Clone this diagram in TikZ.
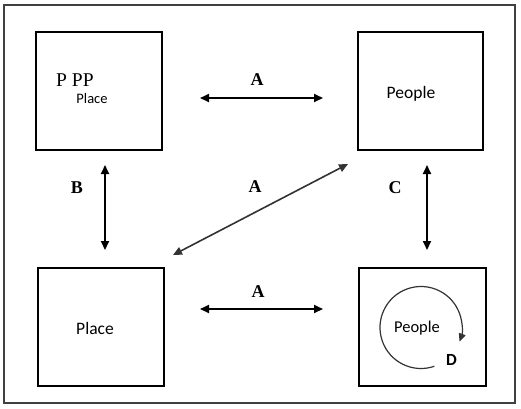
\documentclass[tikz,border=0pt]{standalone}
\usepackage{fontspec}
\setmainfont{Liberation Serif}
\newfontfamily\carlitofont{Carlito}
\usetikzlibrary{arrows.meta}
\begin{document}
\begin{tikzpicture}[x=1pt,y=-1pt,
  box/.style={draw,line width=1.3pt,minimum width=126pt,minimum height=118pt,inner sep=0pt},
  arr/.style={line width=1.8pt,{Triangle[length=9pt,width=8pt]}-{Triangle[length=9pt,width=8pt]}},
  lbl/.style={font=\fontsize{18}{18}\selectfont\bfseries,inner sep=0pt},
  txt/.style={font=\carlitofont\fontsize{17.5}{17.5}\selectfont,inner sep=0pt}]
\useasboundingbox (0,0) rectangle (521,408);
\draw[line width=2pt,draw=black!75] (4,5) rectangle (515,403);
\node[box] (tl) at (99,91) {};
\node[box,minimum width=125pt] (tr) at (420.5,91) {};
\node[box] (bl) at (101,327) {};
\node[box,minimum width=127pt] (br) at (422.5,327) {};
% texts
\node[inner sep=0pt,anchor=base west,font=\fontsize{19.5}{19.5}\selectfont] (ppp) at (56,86) {P PP};
\node[txt,font=\carlitofont\fontsize{14.5}{14.5}\selectfont] (tlplace) at (92,99) {Place};
\node[txt] (trpeople) at (411,94) {People};
\node[txt] (blplace) at (95,328) {Place};
\node[txt,font=\carlitofont\fontsize{16.5}{16.5}\selectfont] (brpeople) at (417,328) {People};
\node[font=\carlitofont\fontsize{17}{17}\selectfont\bfseries,inner sep=0pt] (d) at (451.5,359.5) {D};
% connector end points
\coordinate (a1s) at (200,98); \coordinate (a1e) at (323,98);
\coordinate (a2s) at (200,309); \coordinate (a2e) at (323,309);
\coordinate (bs) at (105,165); \coordinate (be) at (105,250);
\coordinate (cs) at (427,165); \coordinate (ce) at (427,250);
\coordinate (ds) at (348,164); \coordinate (de) at (173,255);
\draw[arr] (a1s) -- (a1e);
\draw[arr] (a2s) -- (a2e);
\draw[arr] (bs) -- (be);
\draw[arr] (cs) -- (ce);
\draw[arr,draw=black!80,line width=1.6pt] (ds) -- (de);
% labels
\node[lbl] (la1) at (257,80) {A};
\node[lbl] (la2) at (255,187) {A};
\node[lbl] (la3) at (258,292) {A};
\node[lbl] (lb) at (77,188) {B};
\node[lbl] (lc) at (395,188) {C};
% circular arrow
\coordinate (ctr) at (421,327.5);
\draw[line width=1.2pt,draw=black!80,-{Triangle[length=8pt,width=7pt]}] ([shift={(71:41)}]ctr) arc[start angle=71,end angle=380,radius=41];
\end{tikzpicture}
\end{document}
